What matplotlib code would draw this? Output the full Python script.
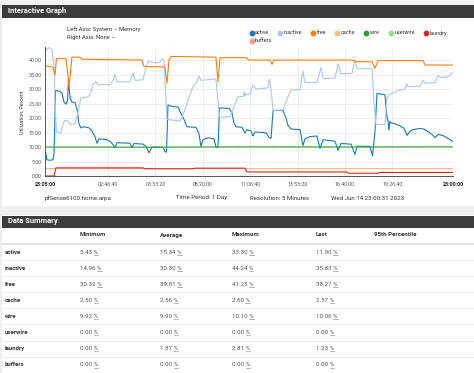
import matplotlib
matplotlib.use("Agg")
import matplotlib.pyplot as plt
from matplotlib.lines import Line2D
from matplotlib.patches import Rectangle

plt.rcParams['font.family'] = ['Roboto', 'DejaVu Sans']

W, H = 474, 373

# ------------------------------------------------------------------ data
start_clock = "23:05:00"
xtick_labels = ["23:05:00", "02:46:40", "05:33:20", "08:20:00", "11:06:40",
                "13:53:20", "16:40:00", "19:26:40", "23:00:00"]
ytick_values = [0, 5, 10, 15, 20, 25, 30, 35, 40]

# (hours since start, percent)
active = [(0.00, 8.8), (0.12, 5.6), (0.29, 5.43), (0.47, 5.6), (0.53, 8.0), (0.62, 29.5),
          (0.88, 29.2), (1.00, 28.5), (1.11, 25.5), (1.23, 24.8), (1.32, 26.0), (1.38, 33.3),
          (1.47, 27.0), (1.58, 25.5), (1.76, 25.3), (1.88, 23.0), (1.99, 18.0), (2.11, 16.6),
          (2.29, 17.0), (2.58, 16.6), (2.76, 15.5), (2.93, 13.5), (3.05, 11.3), (3.17, 12.8),
          (3.58, 12.6), (3.81, 12.0), (3.99, 10.8), (4.10, 9.8), (4.22, 11.5), (4.98, 11.3),
          (5.10, 9.8), (5.22, 11.2), (5.74, 11.0), (5.92, 10.2), (6.10, 8.0), (6.27, 10.0),
          (6.92, 9.9), (7.03, 8.5), (7.12, 8.2), (7.21, 24.5), (7.44, 24.0), (7.80, 23.8),
          (7.97, 21.5), (8.15, 19.5), (8.32, 17.0), (8.85, 16.8), (9.03, 14.5), (9.14, 10.2),
          (9.26, 12.5), (9.56, 13.2), (9.91, 12.8), (10.02, 10.0), (10.14, 9.9), (10.23, 23.5),
          (10.79, 23.3), (10.96, 21.8), (11.08, 18.3), (11.20, 17.0), (11.55, 16.8), (11.72, 14.8),
          (11.84, 16.0), (12.08, 15.5), (12.19, 13.8), (12.31, 15.2), (12.95, 14.9), (13.13, 13.3),
          (13.25, 13.0), (13.37, 22.6), (13.95, 22.6), (14.13, 20.0), (14.24, 17.5), (14.42, 16.2),
          (14.95, 16.0), (15.12, 10.5), (15.24, 12.8), (15.53, 13.6), (15.94, 13.8), (16.12, 9.5),
          (16.30, 12.5), (17.00, 12.0), (17.18, 8.8), (17.35, 11.2), (17.94, 11.0), (18.17, 7.4),
          (18.29, 10.3), (19.05, 10.2), (19.20, 7.0), (19.34, 15.0), (19.46, 28.5), (19.93, 28.0),
          (20.05, 20.0), (20.11, 19.0), (20.16, 15.8), (20.22, 18.8), (20.28, 18.3), (20.52, 18.0),
          (20.81, 17.3), (21.04, 16.5), (21.22, 14.0), (21.40, 15.5), (21.57, 16.0), (21.98, 16.4),
          (22.22, 16.2), (22.39, 15.5), (22.69, 14.3), (22.86, 13.2), (23.04, 14.3), (23.33, 14.0),
          (23.57, 13.1), (23.74, 12.6), (23.92, 11.9)]

inactive = [(0.00, 42.5), (0.12, 44.0), (0.29, 44.24), (0.41, 43.5), (0.53, 38.0), (0.59, 25.0),
            (0.67, 15.2), (0.94, 14.96), (1.06, 18.0), (1.17, 19.2), (1.35, 19.0), (1.47, 17.8),
            (1.76, 17.9), (1.93, 22.0), (2.11, 27.0), (2.52, 27.3), (2.64, 28.0), (2.81, 31.5),
            (2.99, 32.5), (3.11, 31.5), (3.81, 31.5), (3.99, 33.0), (4.10, 35.0), (4.22, 32.5),
            (4.98, 32.5), (5.16, 35.5), (5.28, 33.0), (5.74, 33.2), (5.86, 36.0), (6.04, 39.5),
            (6.45, 39.0), (6.74, 39.2), (6.86, 40.5), (6.98, 39.5), (7.06, 30.0), (7.15, 19.5),
            (7.91, 19.0), (8.09, 21.0), (8.38, 26.0), (8.68, 31.0), (8.91, 32.5), (9.03, 34.5),
            (9.14, 33.0), (10.02, 33.5), (10.14, 26.0), (10.23, 20.3), (10.84, 20.5), (11.14, 25.0),
            (11.31, 27.3), (11.61, 27.5), (11.67, 29.0), (11.72, 27.5), (11.78, 28.2), (12.02, 28.3),
            (12.19, 31.3), (12.37, 30.0), (13.07, 30.4), (13.16, 33.5), (13.25, 30.0), (13.37, 22.6),
            (13.95, 22.8), (14.24, 27.3), (14.42, 29.7), (14.95, 29.8), (15.12, 36.2), (15.24, 32.3),
            (15.94, 32.2), (16.18, 37.5), (16.30, 33.6), (17.00, 33.8), (17.18, 38.7), (17.35, 35.3),
            (18.00, 35.4), (18.17, 40.2), (18.29, 37.0), (19.17, 37.0), (19.29, 25.0), (19.40, 17.8),
            (19.93, 17.8), (20.05, 27.0), (20.22, 28.3), (20.40, 28.5), (20.69, 29.5), (21.10, 30.0),
            (21.19, 31.8), (21.28, 30.8), (21.98, 31.0), (22.16, 33.0), (22.28, 32.0), (22.86, 32.2),
            (23.04, 34.8), (23.15, 34.0), (23.62, 34.2), (23.92, 35.83)]

free = [(0.00, 38.0), (0.29, 37.8), (0.47, 37.5), (0.59, 34.8), (0.67, 40.5), (1.23, 40.5),
        (1.32, 36.0), (1.41, 30.32), (1.49, 36.0), (1.58, 41.0), (2.05, 41.0), (2.17, 40.3),
        (5.69, 40.0), (5.80, 37.8), (7.03, 37.6), (7.15, 32.0), (7.27, 40.0), (7.39, 41.25),
        (10.02, 41.0), (10.14, 32.5), (10.26, 40.8), (11.78, 40.8), (11.96, 40.0), (13.19, 40.0),
        (13.31, 38.5), (13.42, 40.0), (18.00, 40.0), (18.29, 39.4), (19.17, 39.4), (19.34, 37.1),
        (19.52, 39.8), (22.16, 39.8), (22.28, 38.3), (23.92, 38.27)]

cache = [(0.00, 2.55), (6.00, 2.58), (12.00, 2.56), (18.00, 2.55), (23.92, 2.57)]
wire = [(0.00, 10.0), (6.00, 9.95), (12.00, 10.05), (18.00, 10.0), (23.92, 10.06)]
userwire = [(0.00, 0.0), (23.92, 0.0)]
laundry = [(0.00, 0.0), (0.53, 0.0), (0.64, 2.8), (5.74, 2.81), (5.86, 2.5), (8.68, 2.5),
           (8.80, 2.7), (11.72, 2.7), (11.84, 1.4), (17.65, 1.4), (17.82, 0.95), (19.52, 0.95),
           (19.64, 1.23), (23.92, 1.23)]
buffers = [(0.00, 0.0), (23.92, 0.0)]

series_names = ["active", "inactive", "free", "cache", "wire", "userwire", "laundry", "buffers"]
series_data = [active, inactive, free, cache, wire, userwire, laundry, buffers]
series_colors = ["#1f77b4", "#aec7e8", "#ff7f0e", "#ffbb78", "#2ca02c", "#98df8a",
                 "#d62728", "#ff9896"]

table_columns = ["Minimum", "Average", "Maximum", "Last", "95th Percentile"]
table_min = ["5.43", "14.96", "30.32", "2.50", "9.92", "0.00", "0.00", "0.00"]
table_avg = ["15.34", "30.30", "39.81", "2.56", "9.99", "0.00", "1.87", "0.00"]
table_max = ["33.30", "44.24", "41.25", "2.60", "10.10", "0.00", "2.81", "0.00"]
table_last = ["11.90", "35.83", "38.27", "2.57", "10.06", "0.00", "1.23", "0.00"]

header_title = "Interactive Graph"
summary_title = "Data Summary"
axis_lines = ["Left Axis: System – Memory", "Right Axis: None –"]
footer_texts = ["pfSense6100.home.arpa", "Time Period: 1 Day", "Resolution: 5 Minutes",
                "Wed Jun 14 23:00:31 2023"]
ylabel = "Utilization, Percent"


# ------------------------------------------------------------------ helpers
def clock_to_hours(s):
    h, m, sec = map(int, s.split(":"))
    h0, m0, s0 = map(int, start_clock.split(":"))
    d = (h * 3600 + m * 60 + sec) - (h0 * 3600 + m0 * 60 + s0)
    return (d % 86400) / 3600.0


def fx(px):
    return px / W


def fy(py):
    return 1 - py / H


fig = plt.figure(figsize=(W / 100, H / 100), dpi=100)
fig.patch.set_facecolor("white")


def rect(x0, y0, x1, y1, color):
    fig.add_artist(Rectangle((fx(x0), fy(y1)), (x1 - x0) / W, (y1 - y0) / H,
                             transform=fig.transFigure, facecolor=color, edgecolor="none",
                             zorder=0))


# page background bands
rect(0, 0, W, 5, "#f1f1f1")
rect(0, 206, W, 215, "#efefef")
rect(0, 0, 2, 206, "#efefef")
rect(0, 215, 2, H, "#efefef")

# dark headers
rect(2, 5, W, 17.5, "#3c3c3c")
fig.text(fx(8), fy(11.3), header_title, color="white", fontsize=5.4, fontweight="bold",
         va="center", ha="left")
rect(2, 215.5, W, 227.5, "#3c3c3c")
fig.text(fx(8), fy(221.5), summary_title, color="white", fontsize=5.4, fontweight="bold",
         va="center", ha="left")

# axis description
fig.text(fx(67), fy(29), axis_lines[0], fontsize=4.2, color="#333333", va="center")
fig.text(fx(67), fy(37), axis_lines[1], fontsize=4.2, color="#333333", va="center")

# ------------------------------------------------------------------ chart
ax = fig.add_axes([fx(45), fy(176), (453 - 45) / W, (176 - 47) / H])
for name, data, col in zip(series_names, series_data, series_colors):
    t = [p[0] for p in data]
    v = [p[1] for p in data]
    ax.plot(t, v, color=col, lw=0.8, solid_joinstyle="round", label=name)

xt = [clock_to_hours(s) for s in xtick_labels]
ax.set_xlim(0, xt[-1])
ax.set_ylim(0, 44.5)
ax.set_xticks(xt)
ax.set_xticklabels(xtick_labels)
ax.set_yticks(ytick_values)
ax.set_yticklabels(["%.2f" % v for v in ytick_values])
ax.tick_params(axis="y", length=0, labelsize=3.8, labelcolor="#555555", pad=2.5)
ax.tick_params(axis="x", length=0, labelsize=3.8, labelcolor="#555555", pad=4)
for i, lab in enumerate(ax.get_xticklabels()):
    if i == 0 or i == len(xtick_labels) - 1:
        lab.set_fontweight("bold")
        lab.set_color("#222222")
ax.grid(True, color="#ebebeb", lw=0.6)
ax.set_axisbelow(True)
for s in ["top", "right"]:
    ax.spines[s].set_visible(False)
for s in ["left", "bottom"]:
    ax.spines[s].set_color("#555555")
    ax.spines[s].set_linewidth(0.7)
fig.text(fx(22), fy(112), ylabel, rotation=90, fontsize=3.8, color="#444444",
         va="center", ha="center")

# footer
footer_x = [45, 176, 250, 331]
for xx, txt in zip(footer_x, footer_texts):
    fig.text(fx(xx), fy(198), txt, fontsize=4.4, color="#333333", va="center")

# legend (flow layout)
fig.canvas.draw()
renderer = fig.canvas.get_renderer()
lx, ly = 251.5, 33
for i, (name, col) in enumerate(zip(series_names, series_colors)):
    if i == 7:
        lx, ly = 251.5, 41
    fig.add_artist(Line2D([fx(lx)], [fy(ly)], marker="o", markersize=3.2, color=col,
                          markeredgecolor=col, lw=0, transform=fig.transFigure))
    t = fig.text(fx(lx + 3.5), fy(ly), name, fontsize=3.9, color="#333333", va="center")
    bb = t.get_window_extent(renderer)
    lx = bb.x1 + 11

# ------------------------------------------------------------------ table
col_x = [80, 160, 232, 316, 374]
header_y = 235
for xx, c in zip(col_x, table_columns):
    fig.text(fx(xx), fy(header_y), c, fontsize=4.4, fontweight="semibold", color="#333333",
             va="center")


def hline(y, color, lw):
    fig.add_artist(Line2D([fx(2), fx(W)], [fy(y), fy(y)], color=color, lw=lw,
                          transform=fig.transFigure))


hline(243.5, "#dddddd", 1.2)
row_y0, row_dy = 252, 16.1
pct_w = None
for r, name in enumerate(series_names):
    y = row_y0 + r * row_dy
    fig.text(fx(5), fy(y), name, fontsize=4.3, fontweight="semibold", color="#333333",
             va="center")
    vals = [table_min[r], table_avg[r], table_max[r], table_last[r]]
    for xx, v in zip(col_x, vals):
        t = fig.text(fx(xx), fy(y), v + " %", fontsize=4.4, color="#555555", va="center")
        fig.canvas.draw()
        bb = t.get_window_extent(renderer)
        if pct_w is None:
            tmp = fig.text(0, 0, "%", fontsize=4.4)
            pct_w = tmp.get_window_extent(renderer).width
            tmp.remove()
        fig.add_artist(Line2D([(bb.x1 - pct_w) / W, bb.x1 / W],
                              [(bb.y0 - 0.3) / H, (bb.y0 - 0.3) / H],
                              color="#777777", lw=0.4, transform=fig.transFigure))
    if r < len(series_names) - 1:
        hline(y + row_dy / 2, "#e6e6e6", 0.5)

fig.savefig("out.png", dpi=100)
